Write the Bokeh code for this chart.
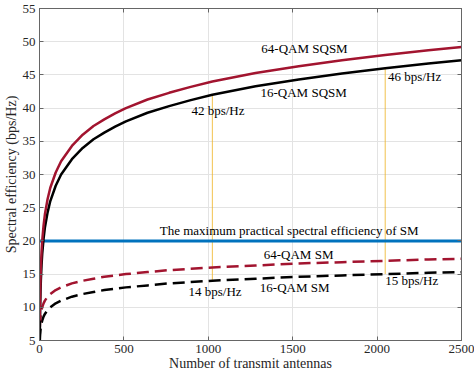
from bokeh.plotting import figure
from bokeh.models import Range1d, LinearAxis, FixedTicker, Label
from bokeh.embed import file_html
from bokeh.resources import INLINE

# Data
antennas = [2, 3, 4, 6, 8, 12, 16, 24, 32, 48, 64, 96, 128, 192, 256, 320, 384, 448,
            512, 640, 768, 896, 1024, 1280, 1536, 1792, 2048, 2304, 2500]
sqsm_64qam = [8, 10.3, 12, 14.3, 16, 18.3, 20, 22.3, 24, 26.3, 28, 30.3, 32, 34.3, 36, 37.3,
              38.3, 39.2, 40, 41.3, 42.3, 43.2, 44, 45.3, 46.3, 47.2, 48, 48.7, 49.2]
sqsm_16qam = [6, 8.3, 10, 12.3, 14, 16.3, 18, 20.3, 22, 24.3, 26, 28.3, 30, 32.3, 34, 35.3,
              36.3, 37.2, 38, 39.3, 40.3, 41.2, 42, 43.3, 44.3, 45.2, 46, 46.7, 47.2]
sm_64qam = [7, 7.6, 8, 8.6, 9, 9.6, 10, 10.6, 11, 11.6, 12, 12.6, 13, 13.6, 14, 14.3, 14.6,
            14.8, 15, 15.3, 15.6, 15.8, 16, 16.3, 16.6, 16.8, 17, 17.2, 17.3]
sm_16qam = [5, 5.6, 6, 6.6, 7, 7.6, 8, 8.6, 9, 9.6, 10, 10.6, 11, 11.6, 12, 12.3, 12.6, 12.8,
            13, 13.3, 13.6, 13.8, 14, 14.3, 14.6, 14.8, 15, 15.2, 15.3]
sm_max_x = [0, 2500]
sm_max_y = [20, 20]
marker_x = [1024, 2048]
marker_low = [14, 15]
marker_high = [42, 46]
x_ticks = [0, 500, 1000, 1500, 2000, 2500]
y_ticks = [5, 10, 15, 20, 25, 30, 35, 40, 45, 50, 55]

FONT = "Liberation Serif"
RED = "#a2142f"
BLUE = "#0072bd"
ORANGE = "#edb120"
TXT = "#262626"
AXC = "#666666"

p = figure(width=474, height=376, output_backend="svg", toolbar_location=None,
           x_range=Range1d(0, 2500), y_range=Range1d(5, 55),
           min_border_left=36, min_border_right=13, min_border_top=8, min_border_bottom=36)
p.outline_line_color = AXC
p.outline_line_width = 1
p.background_fill_color = "white"
p.border_fill_color = "white"

bottom = p.below[0]
left = p.left[0]
top = LinearAxis()
right = LinearAxis()
p.add_layout(top, "above")
p.add_layout(right, "right")

for ax, ticks in ((bottom, x_ticks), (left, y_ticks), (top, x_ticks), (right, y_ticks)):
    ax.ticker = FixedTicker(ticks=ticks)
    ax.major_tick_in = 4
    ax.major_tick_out = 0
    ax.minor_tick_line_color = None
    ax.axis_line_color = AXC
    ax.major_tick_line_color = AXC
    ax.major_label_text_font = FONT
    ax.major_label_text_font_size = "13px"
    ax.major_label_text_color = TXT
    ax.axis_label_text_font = FONT
    ax.axis_label_text_font_size = "14px"
    ax.axis_label_text_font_style = "normal"
    ax.axis_label_text_color = TXT

for ax, ticks in ((top, x_ticks), (right, y_ticks)):
    ax.major_label_overrides = {t: "" for t in ticks}
    ax.major_label_standoff = 0

bottom.axis_label = "Number of transmit antennas"
left.axis_label = "Spectral efficiency (bps/Hz)"
bottom.major_label_standoff = 4
bottom.axis_label_standoff = 0
left.major_label_standoff = 4
left.axis_label_standoff = 1

p.xgrid.ticker = FixedTicker(ticks=x_ticks)
p.ygrid.ticker = FixedTicker(ticks=y_ticks)
p.xgrid.grid_line_color = "#e3e3e3"
p.ygrid.grid_line_color = "#e3e3e3"

# Orange markers
p.segment(x0=marker_x, y0=marker_low, x1=marker_x, y1=marker_high,
          line_color=ORANGE, line_width=1, line_alpha=0.8)

# Curves
p.line(sm_max_x, sm_max_y, line_color=BLUE, line_width=3)
p.line(antennas, sm_16qam, line_color="black", line_width=2.5, line_dash="12 6")
p.line(antennas, sm_64qam, line_color=RED, line_width=2.5, line_dash="12 6")
p.line(antennas, sqsm_16qam, line_color="black", line_width=2.5)
p.line(antennas, sqsm_64qam, line_color=RED, line_width=2.5)

labels = [
    ("64-QAM SQSM", 1570, 49.0, "center"),
    ("16-QAM SQSM", 1565, 42.4, "center"),
    ("42 bps/Hz", 900, 39.7, "left"),
    ("46 bps/Hz", 2065, 44.8, "left"),
    ("The maximum practical spectral efficiency of SM", 712, 21.5, "left"),
    ("64-QAM SM", 1535, 18.0, "center"),
    ("16-QAM SM", 1512, 13.0, "center"),
    ("14 bps/Hz", 1040, 12.4, "center"),
    ("15 bps/Hz", 2205, 14.0, "center"),
]
for t, x, y, al in labels:
    p.add_layout(Label(x=x, y=y, text=t, text_font=FONT, text_font_size="13px",
                       text_color="black", text_align=al, text_baseline="middle"))

open("out.html", "w").write(file_html(p, INLINE))
